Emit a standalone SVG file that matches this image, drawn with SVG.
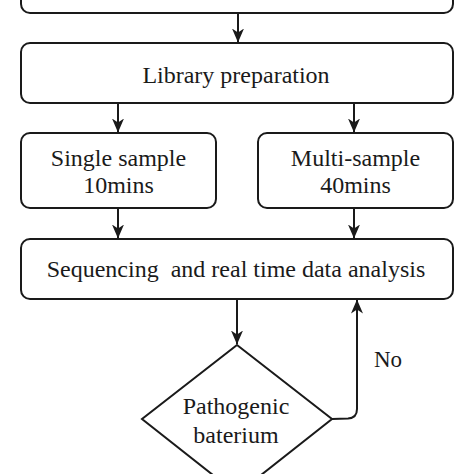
<svg xmlns="http://www.w3.org/2000/svg" width="474" height="474" viewBox="0 0 474 474">
<style>
.box{fill:#fff;stroke:#1a1a1a;stroke-width:2}
.t{font-family:"Liberation Serif","Times New Roman",serif;font-size:24px;fill:#1a1a1a;text-anchor:middle}
.c{fill:none;stroke:#1a1a1a;stroke-width:2}
</style>
<defs>
<marker id="ah" viewBox="0 0 14 12" markerWidth="14" markerHeight="12" refX="13.5" refY="6" orient="auto" markerUnits="userSpaceOnUse">
<path d="M0,0 L14,6 L0,12 L4,6 Z" fill="#1a1a1a"/>
</marker>
</defs>
<rect width="474" height="474" fill="#fff"/>
<g id="top"><rect class="box" x="21" y="-50" width="432" height="63" rx="9"/></g>
<g id="library"><rect class="box" x="21" y="43" width="432" height="60" rx="9"/><text class="t" x="236" y="83">Library preparation</text></g>
<g id="single"><rect class="box" x="21" y="133" width="195" height="75" rx="9"/><text class="t" x="118.5" y="166">Single sample</text><text class="t" x="118.5" y="193">10mins</text></g>
<g id="multi"><rect class="box" x="258" y="133" width="195" height="75" rx="9"/><text class="t" x="355.5" y="166">Multi-sample</text><text class="t" x="355.5" y="193">40mins</text></g>
<g id="seq"><rect class="box" x="21" y="239" width="432" height="60" rx="9"/><text class="t" x="236" y="277" xml:space="preserve">Sequencing  and real time data analysis</text></g>
<g id="decision"><polygon class="box" points="237,345 332,419 237,494 142,419"/><text class="t" x="236" y="414">Pathogenic</text><text class="t" x="236" y="443">baterium</text></g>
<g id="connectors">
<path class="c" d="M238,13 V42" marker-end="url(#ah)"/>
<path class="c" d="M118,103 V132" marker-end="url(#ah)"/>
<path class="c" d="M354,103 V132" marker-end="url(#ah)"/>
<path class="c" d="M118,208 V238" marker-end="url(#ah)"/>
<path class="c" d="M354,208 V238" marker-end="url(#ah)"/>
<path class="c" d="M237,299 V344" marker-end="url(#ah)"/>
<path class="c" d="M332,419 L348,418.5 Q357,418 357,409 V300" marker-end="url(#ah)"/>
<text class="t" x="388" y="367" style="font-size:23px">No</text>
</g>
</svg>
